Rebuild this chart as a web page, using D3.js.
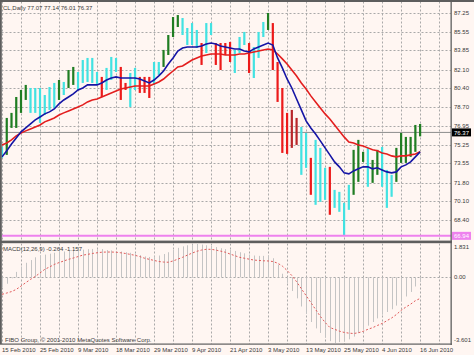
<!DOCTYPE html>
<html><head><meta charset="utf-8">
<script src="https://cdn.jsdelivr.net/npm/d3@7"></script>
<style>html,body{margin:0;padding:0;background:#FFF6F2;}svg{display:block;}</style>
</head><body>
<svg id="c" width="474" height="355"></svg>
<script>
// ---------- DATA ----------
const symbolTitle = "CL,Daily  77.07 77.14 76.01 76.37";
const macdTitle = "MACD(12,26,9) -0.264 -1.157";
const copyright = "FIBO Group, \u00A9 2001-2010 MetaQuotes Software Corp.";
const dateLabels = ["15 Feb 2010","25 Feb 2010","9 Mar 2010","18 Mar 2010","29 Mar 2010","9 Apr 2010","21 Apr 2010","3 May 2010","13 May 2010","25 May 2010","4 Jun 2010","16 Jun 2010"];
const dateLabelBars = [0,8,16,24,32,40,48,56,64,72,80,88];
const priceTicks = [87.25,85.55,83.85,82.10,80.40,78.70,76.95,75.25,73.55,71.80,70.10,68.40];
const priceTickLabels = ["87.25","85.55","83.85","82.10","80.40","78.70","76.95","75.25","73.55","71.80","70.10","68.40"];
const macdTicks = [1.831, 0, -3.601];
const macdTickLabels = ["1.831","0.00","-3.601"];
const lastPrice = 76.37;
const alertPrice = 66.94;

const highs = [75.05,77.69,78.15,79.60,80.24,80.70,80.42,80.42,80.42,79.78,
  80.51,80.88,81.15,80.97,82.06,82.34,81.88,82.97,83.16,83.16,
  81.88,81.43,82.25,83.25,83.16,82.34,80.88,81.79,82.25,81.43,
  81.43,81.43,82.79,82.79,83.89,85.25,86.89,87.07,86.80,85.89,
  86.34,85.71,84.52,86.34,86.34,84.52,84.52,84.52,84.62,83.89,
  85.07,85.53,84.52,84.16,85.53,86.44,87.26,86.34,82.79,80.42,
  78.15,78.42,77.69,76.87,76.32,74.05,75.69,74.96,73.14,73.23,
  71.13,70.95,69.95,71.59,74.78,75.69,74.60,74.96,73.86,74.78,
  75.05,72.95,72.50,74.96,76.32,75.96,75.96,77.05,77.14];
const lows = [74.05,74.32,76.78,76.78,78.15,79.33,78.15,78.15,77.24,77.96,
  78.42,78.60,79.33,79.78,80.42,80.70,80.24,80.88,80.97,80.88,
  80.79,79.60,80.24,81.15,81.88,79.33,80.24,78.69,80.24,79.97,
  79.97,79.51,80.70,81.61,82.34,83.43,85.07,85.98,85.25,84.34,
  84.34,84.07,82.52,83.61,85.25,82.52,82.06,83.43,82.79,81.79,
  83.61,84.34,81.79,81.33,83.16,85.07,85.71,82.06,79.15,74.50,
  74.41,74.96,75.23,72.50,73.14,70.68,69.77,70.04,70.22,68.86,
  69.49,69.13,67.00,69.31,70.68,71.86,73.68,71.41,71.77,72.50,
  71.41,69.49,70.50,71.86,73.59,73.59,74.14,74.60,76.01];
// bar colour class: G strong up, C weak, R down, D down (dark)
const barClass = ("CGGGGGCCCC"+"CCGCGGCCCC"+"CRCCCRRCCR"+"RRCCGGGGCC"+"CCRCCRRRRC"+
  "CCRCCCGRRR"+"RDDCCRCCCR"+"CCCCGGGCGG"+"CCCGGGGGG").split("");

const maFast = [74.14,74.69,75.32,75.87,76.42,76.78,77.15,77.51,77.78,78.06,
  78.24,78.51,78.97,79.33,79.60,79.88,80.24,80.42,80.70,80.70,
  80.70,80.88,81.15,81.33,81.43,81.33,81.33,81.33,81.33,81.24,
  81.06,80.88,81.15,81.52,81.97,82.61,83.16,83.79,84.07,84.16,
  84.16,84.16,84.25,84.43,84.52,84.43,84.25,84.16,84.07,83.98,
  83.98,83.79,83.70,83.98,84.16,84.34,84.52,84.34,83.16,82.25,
  81.24,80.42,79.42,78.42,77.42,76.78,76.23,75.60,74.96,74.32,
  73.68,73.23,72.68,72.59,72.86,73.05,73.23,73.23,73.05,73.14,
  72.95,72.77,72.68,72.77,73.23,73.41,73.68,74.14,74.60];
const maSlow = [75.23,75.41,75.69,76.05,76.32,76.51,76.69,76.87,77.05,77.33,
  77.51,77.69,77.96,78.15,78.33,78.51,78.69,78.88,79.15,79.33,
  79.42,79.60,79.79,79.97,80.15,80.33,80.42,80.51,80.60,80.60,
  80.60,80.60,80.79,80.97,81.24,81.61,81.97,82.34,82.43,82.70,
  82.97,83.16,83.34,83.43,83.52,83.52,83.52,83.43,83.43,83.43,
  83.52,83.52,83.61,83.70,83.79,83.89,83.98,83.89,83.52,83.07,
  82.61,82.06,81.52,80.88,80.33,79.70,79.15,78.60,78.06,77.60,
  77.05,76.51,75.96,75.50,75.41,75.23,75.14,74.96,74.78,74.69,
  74.50,74.41,74.23,74.14,74.23,74.23,74.32,74.41,74.60];
const macdMain = [-0.55,-0.35,-0.05,0.30,0.60,0.80,0.95,1.10,1.20,1.25,
  1.30,1.35,1.40,1.42,1.45,1.48,1.50,1.52,1.55,1.56,
  1.55,1.55,1.50,1.48,1.45,1.42,1.38,1.35,1.30,1.22,
  1.15,1.12,1.15,1.20,1.28,1.38,1.50,1.62,1.70,1.76,
  1.80,1.831,1.80,1.76,1.72,1.66,1.60,1.55,1.50,1.45,
  1.38,1.32,1.25,1.20,1.18,1.18,1.20,1.05,0.70,0.20,
  -0.30,-0.75,-1.15,-1.60,-2.00,-2.45,-2.80,-3.05,-3.30,-3.50,
  -3.601,-3.55,-3.50,-3.40,-3.25,-3.05,-2.85,-2.65,-2.45,-2.25,
  -2.05,-1.90,-1.75,-1.55,-1.30,-1.05,-0.80,-0.50,-0.264];
const macdSignal = [-0.93,-0.86,-0.78,-0.66,-0.48,-0.29,-0.11,0.05,0.24,0.44,
  0.57,0.71,0.81,0.90,0.99,1.06,1.14,1.22,1.26,1.31,
  1.35,1.38,1.39,1.39,1.38,1.35,1.31,1.26,1.21,1.14,
  1.05,0.99,0.93,0.87,0.84,0.83,0.90,1.00,1.10,1.22,
  1.33,1.43,1.50,1.54,1.54,1.50,1.44,1.38,1.28,1.19,
  1.10,1.05,1.00,0.95,0.93,0.91,0.90,0.87,0.78,0.62,
  0.38,0.10,-0.24,-0.62,-1.00,-1.38,-1.76,-2.14,-2.47,-2.75,
  -2.85,-2.95,-3.02,-3.06,-3.08,-3.04,-2.96,-2.85,-2.76,-2.64,
  -2.53,-2.38,-2.23,-2.04,-1.81,-1.63,-1.47,-1.28,-1.157];

// ---------- STYLE ----------
const colors = {G:"#1F7D22", C:"#42E2E2", R:"#EC1A1A", D:"#B8262A"};
const bg = "#FFF6F2", frame = "#5E5E5E", gridC = "#A9A9A9", txt = "#3A3A3A";
const font = "'Liberation Sans', Arial, sans-serif";
const fs = 6;

const svg = d3.select("#c");
const L = 1.5, R = 451, mainTop = 1.5, mainBot = 241, macdTop = 243.5, macdBot = 344;

const x = d3.scaleLinear().domain([0, 94.5]).range([2, 451]);
const y = d3.scaleLinear().domain([66.47, 88.26]).range([241, 2]);
const ym = d3.scaleLinear().domain([-3.601, 1.831]).range([343, 244]);

svg.append("rect").attr("width",474).attr("height",355).attr("fill",bg);

const defs = svg.append("defs");
defs.append("clipPath").attr("id","mainClip").append("rect")
  .attr("x",L).attr("y",mainTop).attr("width",R-L).attr("height",mainBot-mainTop);
defs.append("clipPath").attr("id","macdClip").append("rect")
  .attr("x",L).attr("y",macdTop).attr("width",R-L).attr("height",macdBot-macdTop);

const gMain = svg.append("g").attr("clip-path","url(#mainClip)");
const gMacd = svg.append("g").attr("clip-path","url(#macdClip)");

// vertical grid (every 4 bars)
const vGrid = d3.range(0, 95, 4);
[ [gMain, mainTop, mainBot], [gMacd, macdTop, macdBot] ].forEach(([g, t, b]) => {
  g.selectAll(null).data(vGrid).join("line")
    .attr("x1", d => Math.round(x(d))+0.5).attr("x2", d => Math.round(x(d))+0.5)
    .attr("y1", t).attr("y2", b)
    .attr("stroke", gridC).attr("stroke-width",1).attr("stroke-dasharray","2,2");
});
gMain.selectAll(null).data(priceTicks).join("line")
  .attr("x1", L).attr("x2", R)
  .attr("y1", d => Math.round(y(d))+0.5).attr("y2", d => Math.round(y(d))+0.5)
  .attr("stroke", gridC).attr("stroke-width",1).attr("stroke-dasharray","2,2");
gMacd.append("line").attr("x1",L).attr("x2",R)
  .attr("y1", Math.round(ym(0))+0.5).attr("y2", Math.round(ym(0))+0.5)
  .attr("stroke", gridC).attr("stroke-dasharray","2,2");

gMain.append("line").attr("x1",L).attr("x2",R)
  .attr("y1", y(lastPrice)).attr("y2", y(lastPrice))
  .attr("stroke","#8C8C8C").attr("stroke-width",1);

const idx = d3.range(highs.length);
gMain.selectAll("rect.bar").data(idx).join("rect").attr("class","bar")
  .attr("x", i => x(i) - 1.1).attr("width", 2.2)
  .attr("y", i => y(highs[i])).attr("height", i => y(lows[i]) - y(highs[i]))
  .attr("fill", i => colors[barClass[i]]);

const lineP = arr => d3.line().x((d,i)=>x(i)).y(d=>y(d))(arr);
gMain.append("path").attr("d", lineP(maSlow)).attr("fill","none")
  .attr("stroke","#E31E1E").attr("stroke-width",1.6);
gMain.append("path").attr("d", lineP(maFast)).attr("fill","none")
  .attr("stroke","#1515A5").attr("stroke-width",1.6);

gMain.append("line").attr("x1",L).attr("x2",R)
  .attr("y1", y(alertPrice)).attr("y2", y(alertPrice))
  .attr("stroke","#EE82EE").attr("stroke-width",2);

gMacd.selectAll("line.h").data(idx).join("line").attr("class","h")
  .attr("x1", i => Math.round(x(i))+0.5).attr("x2", i => Math.round(x(i))+0.5)
  .attr("y1", ym(0)).attr("y2", i => ym(macdMain[i]))
  .attr("stroke","#C4C4C4").attr("stroke-width",1);
gMacd.append("path").attr("d", d3.line().x((d,i)=>x(i)).y(d=>ym(d))(macdSignal))
  .attr("fill","none").attr("stroke","#E05A5A").attr("stroke-width",1)
  .attr("stroke-dasharray","2,2");

// frames
svg.append("rect").attr("x",0).attr("y",0).attr("width",474).attr("height",2).attr("fill",frame);
svg.append("rect").attr("x",0).attr("y",0).attr("width",1.8).attr("height",344).attr("fill",frame);
svg.append("rect").attr("x",450.5).attr("y",0).attr("width",1.3).attr("height",345).attr("fill",frame);
svg.append("rect").attr("x",0).attr("y",240.6).attr("width",452).attr("height",2.6).attr("fill",frame);
svg.append("rect").attr("x",0).attr("y",343.5).attr("width",452).attr("height",1.2).attr("fill",frame);

const axText = (sel) => sel.attr("font-family", font).attr("font-size", fs).attr("fill", txt);
svg.selectAll("text.pl").data(priceTicks).join("text").attr("class","pl")
  .attr("x", 454).attr("y", d => y(d)).attr("dy","0.35em")
  .text((d,i)=>priceTickLabels[i]).call(axText);

svg.append("rect").attr("x",452).attr("y", y(lastPrice)-4).attr("width",19).attr("height",8).attr("fill","#000");
svg.append("text").attr("x",454).attr("y",y(lastPrice)).attr("dy","0.35em").text("76.37")
  .attr("font-family",font).attr("font-size",fs).attr("fill","#fff");
svg.append("rect").attr("x",452).attr("y", y(alertPrice)-4).attr("width",19).attr("height",8).attr("fill","#EE82EE");
svg.append("text").attr("x",454).attr("y",y(alertPrice)).attr("dy","0.35em").text("66.94")
  .attr("font-family",font).attr("font-size",fs).attr("fill","#fff");

const macdLabelY = [247, ym(0), 340];
svg.selectAll("text.ml").data(macdTicks).join("text").attr("class","ml")
  .attr("x",454).attr("y",(d,i)=>macdLabelY[i]).attr("dy","0.35em")
  .text((d,i)=>macdTickLabels[i]).call(axText);

svg.append("text").attr("x",3).attr("y",10).text(symbolTitle).call(axText);
svg.append("text").attr("x",3).attr("y",251).text(macdTitle).call(axText);
svg.append("text").attr("x",5).attr("y",341.5).text(copyright).call(axText);

svg.selectAll("text.dl").data(dateLabelBars).join("text").attr("class","dl")
  .attr("x", d => x(d)).attr("y", 351.5).text((d,i)=>dateLabels[i]).call(axText);
</script>
</body></html>
